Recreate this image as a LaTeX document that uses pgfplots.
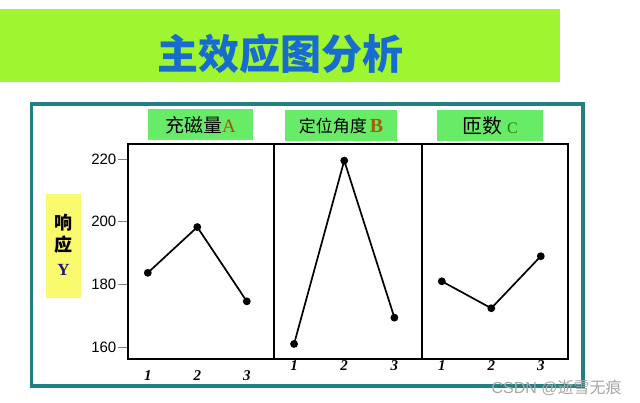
\documentclass[border=0pt]{standalone}
\usepackage{fontspec}
\setmainfont{Liberation Serif}
\newfontfamily\arial{Liberation Sans}
\newfontfamily\cjk{Noto Sans CJK SC}
\usepackage{pgfplots}
\pgfplotsset{compat=1.18}

\definecolor{barlime}{RGB}{158,245,48}
\definecolor{titleblue}{RGB}{24,108,208}
\definecolor{frameteal}{RGB}{34,128,128}
\definecolor{headgreen}{RGB}{104,236,104}
\definecolor{ylabelbox}{RGB}{250,250,110}
\definecolor{letterA}{RGB}{178,78,0}
\definecolor{letterB}{RGB}{165,95,0}
\definecolor{letterC}{RGB}{40,120,20}
\definecolor{navyY}{RGB}{30,20,120}

\pgfplotsset{
  panel/.style={
    scale only axis,
    anchor=north west,
    height=215bp,
    xmin=0.6, xmax=3.55,
    ymin=156.2, ymax=224.8,
    xtick={1,2,3},
    xticklabels={1,2,3},
    xtick style={draw=none},
    xticklabel style={font=\bfseries\itshape\fontsize{15bp}{17bp}\selectfont, yshift=2bp},
    /pgf/number format/assume math mode=true,
    axis line style={line width=1.3bp},
    clip=false,
  },
  effect/.style={black, line width=1.7bp, mark=*, mark size=3bp},
}

\begin{document}
\begin{tikzpicture}
\path (0,0) rectangle (640bp,-403bp);

% title bar
\fill[barlime] (0,-9bp) rectangle (560bp,-82bp);
\node[text=titleblue, font=\cjk\bfseries\fontsize{41bp}{45bp}\selectfont] at (280bp,-54bp) {主效应图分析};

% outer frame
\draw[frameteal, line width=3.5bp] (31.5bp,-104bp) rectangle (583bp,-386bp);

% factor headers
\fill[headgreen] (148bp,-109bp) rectangle (253bp,-140bp);
\node[font=\fontsize{19bp}{21bp}\selectfont] at (200.5bp,-125bp) {{\cjk 充磁量}\textcolor{letterA}{A}};
\fill[headgreen] (285bp,-110bp) rectangle (397bp,-141bp);
\node[font=\fontsize{17bp}{19bp}\selectfont] at (341bp,-126bp) {{\cjk 定位角度}\,\textcolor{letterB}{\bfseries\fontsize{20bp}{22bp}\selectfont B}};
\fill[headgreen] (437bp,-110bp) rectangle (543bp,-141bp);
\node[font=\fontsize{20bp}{22bp}\selectfont] at (490bp,-126bp) {{\cjk 匝数}\ \textcolor{letterC}{\fontsize{16bp}{18bp}\selectfont C}};

% response label
\fill[ylabelbox] (46bp,-194bp) rectangle (81bp,-298bp);
\node[font=\cjk\bfseries\fontsize{18bp}{20bp}\selectfont] at (63.5bp,-223bp) {响};
\node[font=\cjk\bfseries\fontsize{18bp}{20bp}\selectfont] at (63.5bp,-245bp) {应};
\node[text=navyY, font=\bfseries\fontsize{17bp}{19bp}\selectfont] at (63.5bp,-270bp) {Y};

% panel A
\begin{axis}[panel, at={(128bp,-144bp)}, width=146bp,
  ytick={160,180,200,220},
  ytick pos=left,
  tick align=outside,
  major tick length=10bp,
  ytick style={line width=1bp},
  yticklabel style={font=\arial\fontsize{15bp}{17bp}\selectfont, inner sep=1.5bp},
]
\addplot[effect] coordinates {(1,183.7) (2,198.3) (3,174.6)};
\end{axis}

% panel B
\begin{axis}[panel, at={(274bp,-144bp)}, width=148bp, ytick=\empty]
\addplot[effect] coordinates {(1,161.0) (2,219.5) (3,169.4)};
\end{axis}

% panel C
\begin{axis}[panel, at={(422bp,-144bp)}, width=146bp, ytick=\empty]
\addplot[effect] coordinates {(1,181.0) (2,172.4) (3,189.0)};
\end{axis}

% watermark
\node[anchor=west, text=black!35, font=\arial\fontsize{16bp}{18bp}\selectfont] at (488bp,-388bp) {CSDN @{\cjk 逝雪无痕}};
\end{tikzpicture}
\end{document}
